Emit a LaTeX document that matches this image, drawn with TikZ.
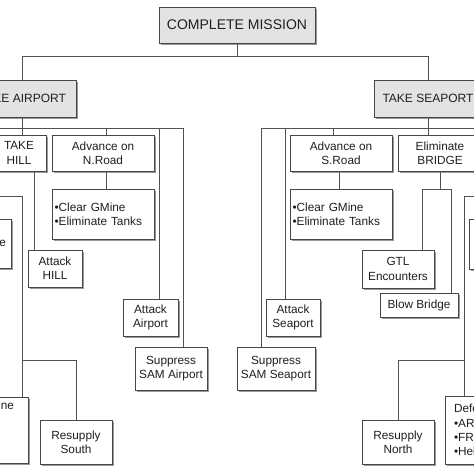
\documentclass[tikz,border=0pt]{standalone}
\usepackage{fontspec}
\setmainfont{Liberation Sans}
\usetikzlibrary{shadows}
\begin{document}
\begin{tikzpicture}[x=1pt,y=-1pt,
  every node/.style={inner sep=0pt, outer sep=0pt},
  box/.style={draw=black!72, line width=0.9pt, fill=white, text=black!88, align=center,
    font=\fontsize{11.8}{14.3}\selectfont,
    drop shadow={shadow xshift=1.6pt, shadow yshift=-1.6pt, fill=black!40, opacity=1}},
  head/.style={box, fill=black!11, font=\fontsize{12}{14}\selectfont},
  link/.style={draw=black!68, line width=0.9pt}]
\useasboundingbox (0,0) rectangle (474,474);
\clip (0,0) rectangle (474,474);
\fill[white] (0,0) rectangle (474,474);

% ---- nodes ----
\node[head, font=\fontsize{14}{16}\selectfont, minimum width=156pt, minimum height=36pt] (mission) at (237,25) {COMPLETE MISSION};
\node[head, minimum width=107pt, minimum height=37pt] (airport) at (22.5,98.5) {TAKE AIRPORT};
\node[head, minimum width=108pt, minimum height=37pt] (seaport) at (428,98.5) {TAKE SEAPORT};

\node[box, minimum width=54pt, minimum height=36pt] (takehill) at (19,153) {TAKE\\HILL};
\node[box, minimum width=102pt, minimum height=36pt] (nroad) at (103,153) {Advance on\\N.Road};
\node[box, minimum width=102pt, minimum height=50pt, text width=97pt, align=left] (nclear) at (103,214) {•Clear GMine\\•Eliminate Tanks};
\node[box, minimum width=54pt, minimum height=37pt] (atkhill) at (55,268.5) {Attack\\HILL};
\node[box, minimum width=55pt, minimum height=37pt] (atkair) at (150.5,317.5) {Attack\\Airport};
\node[box, minimum width=72pt, minimum height=43pt] (samair) at (171,368.5) {Suppress\\SAM Airport};
\node[box, minimum width=71pt, minimum height=49pt, text width=61pt, align=right] (lmid) at (-24.5,243.5) {e};
\node[box, minimum width=85pt, minimum height=66pt, text width=57pt, align=right] (ldef) at (-14.5,430) {ne\\\strut\\\strut\\\strut};
\node[box, minimum width=72pt, minimum height=44pt] (ressouth) at (76,442) {Resupply\\South};

\node[box, minimum width=102pt, minimum height=36pt] (sroad) at (341,153) {Advance on\\S.Road};
\node[box, minimum width=102pt, minimum height=50pt, text width=97pt, align=left] (sclear) at (341,214) {•Clear GMine\\•Eliminate Tanks};
\node[box, minimum width=84pt, minimum height=36pt] (bridge) at (440,153) {Eliminate\\BRIDGE};
\node[box, minimum width=72pt, minimum height=38pt] (gtl) at (398,269) {GTL\\Encounters};
\node[box, minimum width=78pt, minimum height=24pt] (blow) at (419,305) {Blow Bridge};
\node[box, minimum width=54pt, minimum height=37pt] (atksea) at (293,317.5) {Attack\\Seaport};
\node[box, minimum width=78pt, minimum height=43pt] (samsea) at (276,368.5) {Suppress\\SAM Seaport};
\node[box, minimum width=71pt, minimum height=50pt] (rmid) at (504.5,244) {};
\node[box, minimum width=85pt, minimum height=68pt, text width=67pt, align=left] (rdef) at (487.5,430) {Defend\\•ARM\\•FRG\\•Helo};
\node[box, minimum width=72pt, minimum height=44pt] (resnorth) at (398,442) {Resupply\\North};

% ---- junction coordinates ----
\coordinate (j0) at (237,56);
\coordinate (lbusL) at (-5,128);
\coordinate (lbusR) at (183,128);
\coordinate (la) at (159,128);
\coordinate (ln) at (106,128);
\coordinate (lh) at (34,171);
\coordinate (lel) at (-5,196);
\coordinate (lelc) at (22,196);
\coordinate (lres) at (22,360);
\coordinate (rbusL) at (261,128);
\coordinate (rbusR) at (480,128);
\coordinate (ra) at (285,128);
\coordinate (rn) at (333,128);
\coordinate (rc) at (339,171);
\coordinate (bj) at (440,189);
\coordinate (bjl) at (422,189);
\coordinate (bjr) at (451,189);
\coordinate (rel) at (480,196);
\coordinate (relc) at (464,196);
\coordinate (rres) at (464,360);

% ---- connectors ----
\draw[link] (mission.south) -- (j0) -| (airport.north);
\draw[link] (j0) -| (seaport.north);

\draw[link] (lbusL) -- (lbusR) -- (lbusR |- samair.north);
\draw[link] (la) -- (la |- atkair.north);
\draw[link] (ln) -- (ln |- nroad.north);
\draw[link] (airport.south) -- (airport.south |- takehill.north);
\draw[link] (nroad.south -| ln) -- (nclear.north -| ln);
\draw[link] (takehill.south -| lh) -- (atkhill.north -| lh);
\draw[link] (lel) -- (lelc) -- (lelc |- ldef.north);
\draw[link] (lres) -| (ressouth.north);

\draw[link] (rbusL |- samsea.north) -- (rbusL) -- (rbusR);
\draw[link] (ra) -- (ra |- atksea.north);
\draw[link] (rn) -- (rn |- sroad.north);
\draw[link] (seaport.south) -- (seaport.south |- bridge.north);
\draw[link] (rc) -- (rc |- sclear.north);
\draw[link] (bridge.south) -- (bj);
\draw[link] (bjl |- gtl.north) -- (bjl) -- (bjr) -- (bjr |- blow.north);
\draw[link] (rel) -- (relc) -- (relc |- rdef.north);
\draw[link] (rres) -| (resnorth.north);
\end{tikzpicture}
\end{document}
